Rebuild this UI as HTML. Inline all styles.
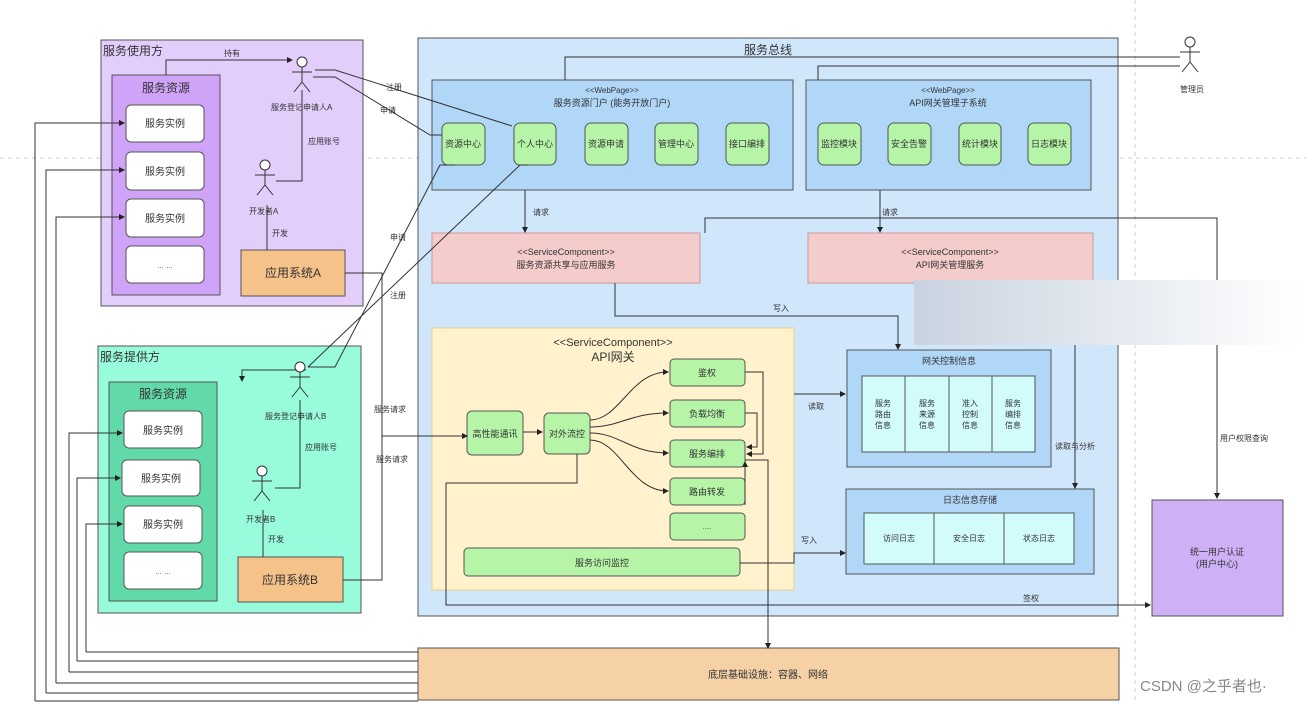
<!DOCTYPE html>
<html><head><meta charset="utf-8"><style>
html,body{margin:0;padding:0;background:#fff;}
svg{display:block;font-family:"Liberation Sans","Noto Sans CJK SC",sans-serif;}
</style></head><body>
<svg width="1306" height="704" viewBox="0 0 1306 704" xmlns="http://www.w3.org/2000/svg">
<defs>
<marker id="a" markerWidth="6" markerHeight="6" refX="5" refY="3" orient="auto"><path d="M0,0 L6,3 L0,6z" fill="#222"/></marker>
<linearGradient id="g" x1="0" x2="1"><stop offset="0" stop-color="#c9d3e0"/><stop offset="1" stop-color="#fff"/></linearGradient>
</defs>
<g stroke="#ccc" stroke-dasharray="4,4" fill="none"><line x1="0" y1="158" x2="1306" y2="158"/><line x1="1135" y1="0" x2="1135" y2="704"/></g>

<!-- 服务使用方 -->
<rect x="101" y="40" width="262" height="266" fill="#e3cdfa" stroke="#555"/>
<text x="103" y="55" font-size="12" fill="#333">服务使用方</text>
<rect x="112" y="75" width="108" height="220" fill="#cfa3f8" stroke="#555"/>
<text x="166" y="92" font-size="12" text-anchor="middle" fill="#333">服务资源</text>
<g fill="#fff" stroke="#555"><rect x="126" y="105" width="78" height="37" rx="5"/><rect x="126" y="152" width="78" height="38" rx="5"/><rect x="126" y="199" width="78" height="38" rx="5"/><rect x="126" y="246" width="78" height="37" rx="5"/></g>
<g font-size="10" text-anchor="middle" fill="#333"><text x="165" y="127">服务实例</text><text x="165" y="175">服务实例</text><text x="165" y="222">服务实例</text><text x="165" y="268" font-size="7">… …</text></g>
<rect x="241" y="250" width="104" height="46" fill="#f5c28a" stroke="#555"/>
<text x="293" y="277" font-size="12" text-anchor="middle" fill="#333">应用系统A</text>

<!-- 服务提供方 -->
<rect x="98" y="346" width="263" height="267" fill="#98fcdc" stroke="#555"/>
<text x="100" y="361" font-size="12" fill="#333">服务提供方</text>
<rect x="109" y="382" width="108" height="219" fill="#62d9a8" stroke="#555"/>
<text x="163" y="398" font-size="12" text-anchor="middle" fill="#333">服务资源</text>
<g fill="#fff" stroke="#555"><rect x="124" y="411" width="78" height="37" rx="5"/><rect x="122" y="460" width="78" height="36" rx="5"/><rect x="124" y="506" width="78" height="37" rx="5"/><rect x="124" y="552" width="78" height="37" rx="5"/></g>
<g font-size="10" text-anchor="middle" fill="#333"><text x="163" y="434">服务实例</text><text x="161" y="482">服务实例</text><text x="163" y="528">服务实例</text><text x="163" y="574" font-size="7">… …</text></g>
<rect x="238" y="557" width="105" height="45" fill="#f5c28a" stroke="#555"/>
<text x="290" y="584" font-size="12" text-anchor="middle" fill="#333">应用系统B</text>

<!-- 服务总线 -->
<rect x="418" y="38" width="700" height="578" fill="#d0e6fb" stroke="#555"/>
<text x="768" y="54" font-size="12" text-anchor="middle" fill="#333">服务总线</text>
<rect x="432" y="80" width="361" height="110" fill="#b0d6f8" stroke="#555"/>
<text x="612" y="93" font-size="8" text-anchor="middle" fill="#333">&lt;&lt;WebPage&gt;&gt;</text>
<text x="612" y="106" font-size="9" text-anchor="middle" fill="#333">服务资源门户 (能务开放门户)</text>
<rect x="806" y="80" width="285" height="110" fill="#b0d6f8" stroke="#555"/>
<text x="948" y="93" font-size="8" text-anchor="middle" fill="#333">&lt;&lt;WebPage&gt;&gt;</text>
<text x="948" y="106" font-size="9" text-anchor="middle" fill="#333">API网关管理子系统</text>
<g fill="#b6f5a8" stroke="#555"><rect x="442" y="123" width="43" height="42" rx="6"/><rect x="514" y="123" width="42" height="42" rx="6"/><rect x="585" y="123" width="43" height="42" rx="6"/><rect x="655" y="123" width="43" height="42" rx="6"/><rect x="726" y="123" width="43" height="42" rx="6"/><rect x="818" y="123" width="43" height="42" rx="6"/><rect x="888" y="123" width="43" height="42" rx="6"/><rect x="959" y="123" width="42" height="42" rx="6"/><rect x="1028" y="123" width="43" height="42" rx="6"/></g>
<g font-size="9" text-anchor="middle" fill="#333"><text x="463" y="147">资源中心</text><text x="535" y="147">个人中心</text><text x="606" y="147">资源申请</text><text x="676" y="147">管理中心</text><text x="747" y="147">接口编排</text><text x="839" y="147">监控模块</text><text x="909" y="147">安全告警</text><text x="980" y="147">统计模块</text><text x="1049" y="147">日志模块</text></g>
<rect x="432" y="233" width="268" height="50" fill="#f3cccb" stroke="#c99"/>
<rect x="808" y="233" width="285" height="50" fill="#f3cccb" stroke="#c99"/>
<g font-size="9" text-anchor="middle" fill="#333"><text x="566" y="255">&lt;&lt;ServiceComponent&gt;&gt;</text><text x="566" y="268">服务资源共享与应用服务</text><text x="950" y="255">&lt;&lt;ServiceComponent&gt;&gt;</text><text x="950" y="268">API网关管理服务</text></g>

<!-- API gateway -->
<rect x="432" y="328" width="362" height="262" fill="#fff2cc" stroke="#e8d08a"/>
<text x="613" y="346" font-size="11" text-anchor="middle" fill="#333">&lt;&lt;ServiceComponent&gt;&gt;</text>
<text x="613" y="361" font-size="12" text-anchor="middle" fill="#333">API网关</text>
<g fill="#b6f5a8" stroke="#555"><rect x="467" y="411" width="56" height="44" rx="5"/><rect x="544" y="413" width="46" height="41" rx="5"/><rect x="670" y="359" width="75" height="27" rx="4"/><rect x="670" y="400" width="75" height="27" rx="4"/><rect x="670" y="440" width="75" height="27" rx="4"/><rect x="670" y="478" width="75" height="27" rx="4"/><rect x="670" y="513" width="75" height="27" rx="4"/><rect x="464" y="548" width="276" height="28" rx="4"/></g>
<g font-size="9" text-anchor="middle" fill="#333"><text x="495" y="437">高性能通讯</text><text x="567" y="437">对外流控</text><text x="707" y="376">鉴权</text><text x="707" y="417">负载均衡</text><text x="707" y="457">服务编排</text><text x="707" y="495">路由转发</text><text x="707" y="529" font-size="6">.....</text><text x="602" y="566">服务访问监控</text></g>

<rect x="847" y="350" width="204" height="117" fill="#b0d6f8" stroke="#555"/>
<text x="949" y="364" font-size="9" text-anchor="middle" fill="#333">网关控制信息</text>
<rect x="862" y="376" width="173" height="76" fill="#d2fbfb" stroke="#555"/>
<g stroke="#555"><line x1="905" y1="376" x2="905" y2="452"/><line x1="949" y1="376" x2="949" y2="452"/><line x1="992" y1="376" x2="992" y2="452"/></g>
<g font-size="8" text-anchor="middle" fill="#333"><text x="883" y="406">服务</text><text x="883" y="417">路由</text><text x="883" y="428">信息</text><text x="927" y="406">服务</text><text x="927" y="417">来源</text><text x="927" y="428">信息</text><text x="970" y="406">准入</text><text x="970" y="417">控制</text><text x="970" y="428">信息</text><text x="1013" y="406">服务</text><text x="1013" y="417">编排</text><text x="1013" y="428">信息</text></g>
<rect x="846" y="489" width="248" height="85" fill="#b0d6f8" stroke="#555"/>
<text x="970" y="503" font-size="9" text-anchor="middle" fill="#333">日志信息存储</text>
<rect x="864" y="513" width="210" height="51" fill="#d2fbfb" stroke="#555"/>
<g stroke="#555"><line x1="934" y1="513" x2="934" y2="564"/><line x1="1004" y1="513" x2="1004" y2="564"/></g>
<g font-size="8" text-anchor="middle" fill="#333"><text x="899" y="541">访问日志</text><text x="969" y="541">安全日志</text><text x="1039" y="541">状态日志</text></g>

<rect x="1152" y="500" width="131" height="116" fill="#cdb0f5" stroke="#555"/>
<text x="1217" y="555" font-size="9" text-anchor="middle" fill="#333">统一用户认证</text>
<text x="1217" y="567" font-size="9" text-anchor="middle" fill="#333">(用户中心)</text>
<rect x="418" y="648" width="701" height="52" fill="#f6d1a6" stroke="#555"/>
<text x="768" y="678" font-size="10" text-anchor="middle" fill="#333">底层基础设施：容器、网络</text>

<!-- connectors -->
<g fill="none" stroke="#333" stroke-width="1">
<path d="M35,701 H418 M35,701 V123 H124" marker-end="url(#a)"/>
<path d="M46,693 H418 M46,693 V170 H124" marker-end="url(#a)"/>
<path d="M56,683 H418 M56,683 V217 H124" marker-end="url(#a)"/>
<path d="M69,672 H418 M69,672 V433 H122" marker-end="url(#a)"/>
<path d="M77,661 H418 M77,661 V478 H120" marker-end="url(#a)"/>
<path d="M86,652 H418 M86,652 V524 H122" marker-end="url(#a)"/>
<path d="M166,75 V60 H292" marker-end="url(#a)"/>
<path d="M276,181 H302 V90"/>
<path d="M267,250 V205"/>
<path d="M315,70 H335 L512,126"/>
<path d="M313,77 H335 L430,135 H442"/>
<path d="M345,273 H382 V580 H343"/>
<path d="M382,436 H467" marker-end="url(#a)"/>
<path d="M308,367 H335 L440,165 H455"/>
<path d="M308,367 L520,165 H528"/>
<path d="M306,370 H242 L242,381" marker-end="url(#a)"/>
<path d="M275,488 H300 V400"/>
<path d="M263,557 V510"/>
<path d="M523,432 H542" marker-end="url(#a)"/>
<path d="M590,420 C620,420 630,372 668,372" marker-end="url(#a)"/>
<path d="M590,427 C620,427 630,413 668,413" marker-end="url(#a)"/>
<path d="M590,433 C620,433 630,453 668,453" marker-end="url(#a)"/>
<path d="M590,440 C620,440 630,491 668,491" marker-end="url(#a)"/>
<path d="M745,372 H763 V454 H747" marker-end="url(#a)"/>
<path d="M745,413 H757 V447 H747" marker-end="url(#a)"/>
<path d="M745,505 V462" marker-end="url(#a)"/>
<path d="M745,460 H768 V648" marker-end="url(#a)"/>
<path d="M577,454 V483 H446 V605 H1150" marker-end="url(#a)"/>
<path d="M740,563 H794 V553 H845" marker-end="url(#a)"/>
<path d="M794,394 H845" marker-end="url(#a)"/>
<path d="M525,190 V232" marker-end="url(#a)"/>
<path d="M880,190 V232" marker-end="url(#a)"/>
<path d="M615,283 V316 H898 V349" marker-end="url(#a)"/>
<path d="M1075,283 V488" marker-end="url(#a)"/>
<path d="M705,233 V218 H1217 V498" marker-end="url(#a)"/>
<path d="M565,80 V57 H1180"/>
<path d="M818,80 V66 H1170 L1180,66"/>
</g>
<rect x="914" y="280" width="388" height="65" fill="url(#g)"/>
<g font-size="8" fill="#333">
<text x="224" y="56">持有</text><text x="386" y="90">注册</text><text x="380" y="113">申请</text><text x="308" y="144">应用账号</text><text x="272" y="236">开发</text>
<text x="390" y="240">申请</text><text x="390" y="298">注册</text><text x="533" y="215">请求</text><text x="882" y="215">请求</text><text x="773" y="311">写入</text>
<text x="374" y="412">服务请求</text><text x="376" y="462">服务请求</text><text x="305" y="450">应用账号</text><text x="268" y="542">开发</text>
<text x="808" y="409">读取</text><text x="801" y="543">写入</text><text x="1055" y="449">读取与分析</text><text x="1220" y="441">用户权限查询</text><text x="1023" y="601">签权</text>
<text x="271" y="110" text-anchor="start">服务登记申请人A</text><text x="249" y="214">开发者A</text>
<text x="265" y="419">服务登记申请人B</text><text x="246" y="522">开发者B</text><text x="1180" y="92">管理员</text>
</g>
<!-- actors -->
<g fill="#fff" stroke="#333"><circle cx="302" cy="62" r="5"/><circle cx="265" cy="165" r="5"/><circle cx="300" cy="367" r="5"/><circle cx="262" cy="471" r="5"/><circle cx="1190" cy="42" r="5"/></g>
<g fill="none" stroke="#333">
<path d="M302,67 V82 M292,72 H312 M302,82 L294,92 M302,82 L310,92"/>
<path d="M265,170 V185 M255,175 H275 M265,185 L257,195 M265,185 L273,195"/>
<path d="M300,372 V387 M290,377 H310 M300,387 L292,397 M300,387 L308,397"/>
<path d="M262,476 V491 M252,481 H272 M262,491 L254,501 M262,491 L270,501"/>
<path d="M1190,47 V62 M1180,52 H1200 M1190,62 L1182,72 M1190,62 L1198,72"/>
</g>
<text x="1140" y="691" font-size="15" fill="#888">CSDN @之乎者也·</text>
</svg>
</body></html>
